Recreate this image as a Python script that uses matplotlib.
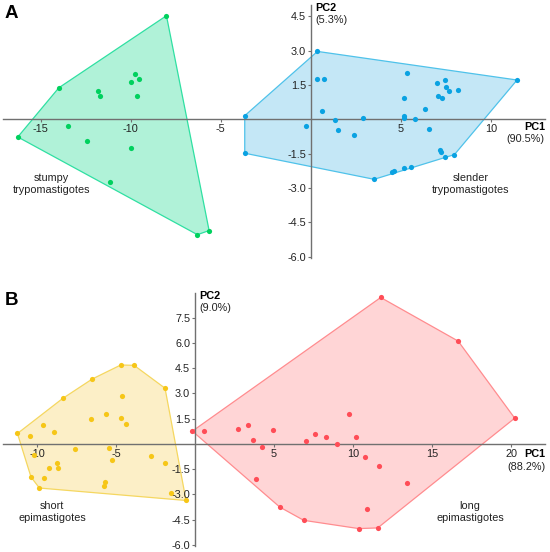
import numpy as np
import matplotlib.pyplot as plt

plt.rcParams['font.family'] = ['Liberation Sans', 'DejaVu Sans']

# Panel A: PCA trypomastigotes
stumpy_x = [-8.02, -14.0, -16.28, -6.3, -5.65, -9.76, -9.56, -10.0, -11.8, -11.7,
            -9.67, -13.5, -12.46, -10.0, -11.18]
stumpy_y = [4.53, 1.38, -0.77, -5.04, -4.86, 1.97, 1.78, 1.62, 1.25, 1.01,
            1.04, -0.29, -0.96, -1.26, -2.72]

slender_x = [-3.67, -3.67, 0.37, 11.46, 7.98, 7.43, 3.52, 0.33, 0.76, 5.33,
             7.02, 7.46, 7.5, 7.67, 8.17, 7.04, 7.3, 5.18, 0.65, 6.33,
             1.33, 2.91, 5.18, 5.18, 5.8, -0.26, 1.5, 2.39, 6.54, 7.2,
             7.24, 5.57, 5.18, 4.63, 4.52]
slender_y = [0.16, -1.48, 2.97, 1.72, -1.54, -1.64, -2.62, 1.77, 1.77, 2.01,
             1.57, 1.72, 1.43, 1.26, 1.30, 1.01, 0.93, 0.94, 0.38, 0.47,
             -0.03, 0.06, 0.16, 0.06, 0.01, -0.27, -0.45, -0.68, -0.43, -1.32,
             -1.42, -2.07, -2.13, -2.26, -2.32]

# Panel B: PCA epimastigotes
short_x = [-11.24, -10.46, -10.21, -9.62, -8.9, -8.38, -6.5, -4.7, -3.86, -1.9,
           -4.62, -5.61, -6.58, -4.7, -4.37, -7.57, -5.44, -5.27, -2.8, -1.88,
           -8.73, -8.65, -9.22, -10.38, -9.54, -9.85, -5.7, -5.76, -1.54, -0.57]
short_y = [0.61, 0.45, -0.69, 1.14, 0.67, 2.69, 3.85, 4.68, 4.66, 3.3,
           2.82, 1.74, 1.46, 1.56, 1.16, -0.34, -0.28, -0.95, -0.75, -1.15,
           -1.15, -1.46, -1.46, -1.98, -2.04, -2.63, -2.27, -2.53, -2.9, -3.37]

long_x = [-0.17, 0.57, 2.72, 3.35, 3.67, 4.24, 4.94, 3.84, 5.36, 11.75,
          16.65, 20.23, 11.56, 10.36, 6.88, 9.75, 7.62, 8.27, 10.21, 7.03,
          9.01, 10.76, 11.67, 13.42, 10.87]
long_y = [0.75, 0.73, 0.89, 1.1, 0.21, -0.22, 0.79, -2.1, -3.76, 8.69,
          6.1, 1.52, -5.0, -5.04, -4.55, 1.78, 0.57, 0.39, 0.43, 0.14,
          -0.02, -0.77, -1.35, -2.33, -3.85]

xticks_a = [-15, -10, -5, 5, 10]
yticks_a = [4.5, 3.0, 1.5, -1.5, -3.0, -4.5, -6.0]
xticks_b = [-10, -5, 5, 10, 15, 20]
yticks_b = [7.5, 6.0, 4.5, 3.0, 1.5, -1.5, -3.0, -4.5, -6.0]

FS = 7.8


def hull(xs, ys):
    # convex hull (monotone chain)
    pts = sorted(zip(xs, ys))

    def cross(o, a, b):
        return (a[0] - o[0]) * (b[1] - o[1]) - (a[1] - o[1]) * (b[0] - o[0])

    lower, upper = [], []
    for p in pts:
        while len(lower) >= 2 and cross(lower[-2], lower[-1], p) <= 0:
            lower.pop()
        lower.append(p)
    for p in reversed(pts):
        while len(upper) >= 2 and cross(upper[-2], upper[-1], p) <= 0:
            upper.pop()
        upper.append(p)
    return np.array(lower[:-1] + upper[:-1])


def group(ax, xs, ys, fill, edge, dot):
    h = hull(xs, ys)
    ax.fill(h[:, 0], h[:, 1], facecolor=fill, edgecolor=edge, lw=0.9, zorder=1)
    ax.scatter(xs, ys, s=14, color=dot, zorder=3, linewidths=0)


def setup(ax, xlim, ylim, xt, yt):
    ax.set_xlim(xlim)
    ax.set_ylim(ylim)
    for s in ['top', 'right']:
        ax.spines[s].set_visible(False)
    for s in ['left', 'bottom']:
        ax.spines[s].set_position(('data', 0))
        ax.spines[s].set_color('#707070')
        ax.spines[s].set_linewidth(1.0)
    ax.set_xticks(xt)
    ax.set_xticklabels([str(v) for v in xt])
    ax.set_yticks(yt)
    ax.set_yticklabels(['%.1f' % v for v in yt])
    ax.tick_params(length=2, width=0.8, color='#707070', labelsize=FS,
                   labelcolor='#222222', pad=1.5)
    ax.patch.set_visible(False)


fig = plt.figure(figsize=(5.5, 5.52), dpi=100)

# ---- A ----
axA = fig.add_axes([0.0055, 0.533, 0.985, 0.458])
setup(axA, (-17.1, 13.0), (-6.05, 5.0), xticks_a, yticks_a)
group(axA, stumpy_x, stumpy_y, '#b0f2d8', '#2fe0a2', '#00d15e')
group(axA, slender_x, slender_y, '#c4e7f6', '#4fc2ea', '#0aa2e2')
axA.text(-14.4, -2.83, 'stumpy\ntrypomastigotes', ha='center', va='center',
         fontsize=FS, color='#222222', linespacing=1.3)
axA.text(8.9, -2.83, 'slender\ntrypomastigotes', ha='center', va='center',
         fontsize=FS, color='#222222', linespacing=1.3)
axA.text(0.25, 4.85, 'PC2', fontsize=FS, fontweight='bold', va='center')
axA.text(0.25, 4.35, '(5.3%)', fontsize=FS, color='#222222', va='center')
axA.text(13.0, -0.35, 'PC1', fontsize=FS, fontweight='bold', ha='right', va='center')
axA.text(13.0, -0.88, '(90.5%)', fontsize=FS, color='#222222', ha='right', va='center')
fig.text(0.009, 0.976, 'A', fontsize=13.5, fontweight='bold', va='center')

# ---- B ----
axB = fig.add_axes([0.005, 0.011, 0.986, 0.458])
setup(axB, (-12.17, 22.15), (-6.07, 8.95), xticks_b, yticks_b)
group(axB, short_x, short_y, '#fcefc7', '#f5d760', '#f6c617')
group(axB, long_x, long_y, '#ffd5d6', '#ff8c8f', '#ff4d57')
axB.text(-9.03, -4.05, 'short\nepimastigotes', ha='center', va='center',
         fontsize=FS, color='#222222', linespacing=1.3)
axB.text(17.4, -4.05, 'long\nepimastigotes', ha='center', va='center',
         fontsize=FS, color='#222222', linespacing=1.3)
axB.text(0.25, 8.75, 'PC2', fontsize=FS, fontweight='bold', va='center')
axB.text(0.25, 8.05, '(9.0%)', fontsize=FS, color='#222222', va='center')
axB.text(22.15, -0.6, 'PC1', fontsize=FS, fontweight='bold', ha='right', va='center')
axB.text(22.15, -1.4, '(88.2%)', fontsize=FS, color='#222222', ha='right', va='center')
fig.text(0.009, 0.456, 'B', fontsize=13.5, fontweight='bold', va='center')

fig.savefig('out.png', dpi=100)
